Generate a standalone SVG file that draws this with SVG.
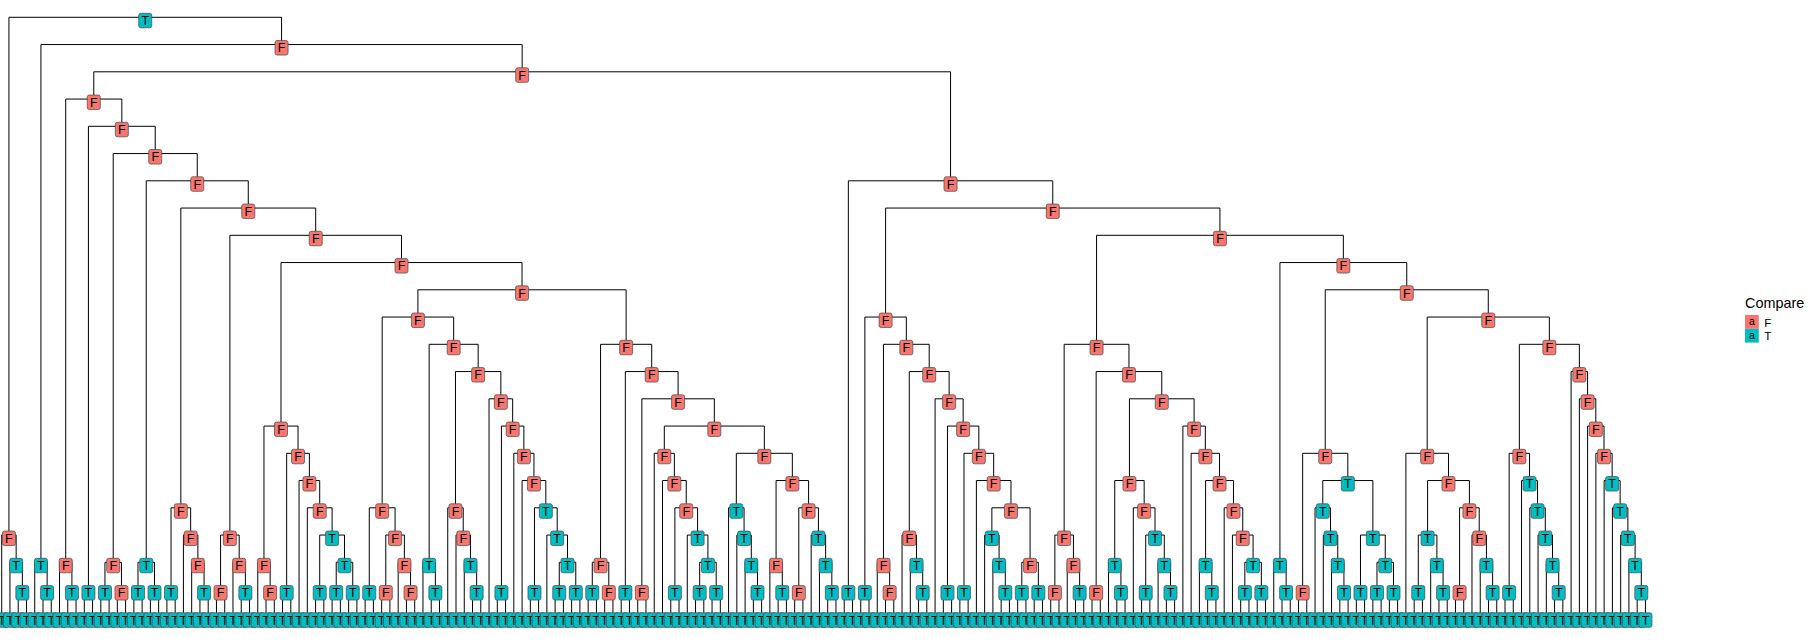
<svg xmlns="http://www.w3.org/2000/svg" width="1812" height="643" viewBox="0 0 1812 643">
<style>
#edges path{fill:none;stroke:#000;stroke-width:1;vector-effect:non-scaling-stroke}
.F rect{fill:#F8766D}
.T rect{fill:#00BFC4}
#nodes rect{stroke:#4d4d4d;stroke-width:0.75}
#nodes text{font-family:"Liberation Sans",Arial,sans-serif;font-size:12.5px;text-anchor:middle;fill:#000}
#legend text{font-family:"Liberation Sans",Arial,sans-serif;fill:#000}
</style>
<rect width="1812" height="643" fill="#fff"/>
<g id="edges" transform="matrix(8.26 0 0 -27.25 1.7 616.8)">
<path d="M2 0V1H3V0"/><path d="M1 0V2H2.5V1"/><path d="M0 0V3H1.75V2"/>
<path d="M5 0V1H6V0"/><path d="M4 0V2H5.5V1"/>
<path d="M8 0V1H9V0"/><path d="M7 0V2H8.5V1"/>
<path d="M10 0V1H11V0"/>
<path d="M12 0V1H13V0"/><path d="M14 0V1H15V0"/><path d="M12.5 1V2H14.5V1"/>
<path d="M16 0V1H17V0"/><path d="M18 0V1H19V0"/><path d="M16.5 1V2H18.5V1"/>
<path d="M20 0V1H21V0"/><path d="M24 0V1H25V0"/><path d="M23 0V2H24.5V1"/><path d="M22 0V3H23.75V2"/><path d="M20.5 1V4H22.875V3"/>
<path d="M26 0V1H27V0"/><path d="M29 0V1H30V0"/><path d="M28 0V2H29.5V1"/><path d="M26.5 1V3H28.75V2"/>
<path d="M32 0V1H33V0"/><path d="M31 0V2H32.5V1"/><path d="M34 0V1H35V0"/>
<path d="M38 0V1H39V0"/><path d="M40 0V1H41V0"/><path d="M42 0V1H43V0"/><path d="M40.5 1V2H42.5V1"/><path d="M38.5 1V3H41.5V2"/><path d="M37 0V4H40V3"/><path d="M36 0V5H38.5V4"/><path d="M34.5 1V6H37.25V5"/><path d="M31.75 2V7H35.875V6"/>
<path d="M44 0V1H45V0"/><path d="M46 0V1H47V0"/><path d="M49 0V1H50V0"/><path d="M48 0V2H49.5V1"/><path d="M46.5 1V3H48.75V2"/><path d="M44.5 1V4H47.625V3"/>
<path d="M52 0V1H53V0"/><path d="M51 0V2H52.5V1"/>
<path d="M57 0V1H58V0"/><path d="M56 0V2H57.5V1"/><path d="M55 0V3H56.75V2"/><path d="M54 0V4H55.875V3"/>
<path d="M60 0V1H61V0"/><path d="M64 0V1H65V0"/><path d="M67 0V1H68V0"/><path d="M69 0V1H70V0"/><path d="M67.5 1V2H69.5V1"/><path d="M66 0V3H68.5V2"/><path d="M64.5 1V4H67.25V3"/><path d="M63 0V5H65.875V4"/><path d="M62 0V6H64.4375V5"/><path d="M60.5 1V7H63.21875V6"/><path d="M59 0V8H61.859375V7"/>
<path d="M54.9375 4V9H60.4296875V8"/><path d="M51.75 2V10H57.68359375V9"/><path d="M46.0625 4V11H54.716796875V10"/>
<path d="M71 0V1H72V0"/><path d="M73 0V1H74V0"/><path d="M71.5 1V2H73.5V1"/>
<path d="M75 0V1H76V0"/><path d="M77 0V1H78V0"/>
<path d="M81 0V1H82V0"/><path d="M84 0V1H85V0"/><path d="M86 0V1H87V0"/><path d="M84.5 1V2H86.5V1"/><path d="M83 0V3H85.5V2"/><path d="M81.5 1V4H84.25V3"/><path d="M80 0V5H82.875V4"/><path d="M79 0V6H81.4375V5"/>
<path d="M91 0V1H92V0"/><path d="M90 0V2H91.5V1"/><path d="M89 0V3H90.75V2"/><path d="M88 0V4H89.875V3"/>
<path d="M94 0V1H95V0"/><path d="M93 0V2H94.5V1"/>
<path d="M96 0V1H97V0"/><path d="M100 0V1H101V0"/><path d="M99 0V2H100.5V1"/><path d="M98 0V3H99.75V2"/><path d="M96.5 1V4H98.875V3"/>
<path d="M93.75 2V5H97.6875V4"/><path d="M88.9375 4V6H95.71875V5"/><path d="M80.21875 6V7H92.328125V6"/><path d="M77.5 1V8H86.2734375V7"/><path d="M75.5 1V9H81.88671875V8"/><path d="M72.5 2V10H78.693359375V9"/>
<path d="M50.3896484375 11V12H75.5966796875V10"/><path d="M33.8125 7V13H62.9931640625V12"/><path d="M27.625 3V14H48.40283203125V13"/><path d="M21.6875 4V15H38.013916015625V14"/><path d="M17.5 2V16H29.8507080078125V15"/><path d="M13.5 2V17H23.67535400390625V16"/><path d="M10.5 1V18H18.587677001953125V17"/><path d="M7.75 2V19H14.5438385009765625V18"/>
<path d="M102 0V1H103V0"/>
<path d="M104 0V1H105V0"/><path d="M107 0V1H108V0"/><path d="M106 0V2H107.5V1"/>
<path d="M111 0V1H112V0"/><path d="M110 0V2H111.5V1"/><path d="M109 0V3H110.75V2"/>
<path d="M114 0V1H115V0"/><path d="M116 0V1H117V0"/>
<path d="M121 0V1H122V0"/><path d="M120 0V2H121.5V1"/><path d="M119 0V3H120.75V2"/>
<path d="M123 0V1H124V0"/><path d="M125 0V1H126V0"/><path d="M123.5 1V2H125.5V1"/>
<path d="M119.875 3V4H124.5V2"/><path d="M118 0V5H122.1875V4"/><path d="M116.5 1V6H120.09375V5"/><path d="M114.5 1V7H118.296875V6"/><path d="M113 0V8H116.3984375V7"/><path d="M109.875 3V9H114.69921875V8"/><path d="M106.75 2V10H112.287109375V9"/><path d="M104.5 1V11H109.5185546875V10"/>
<path d="M127 0V1H128V0"/><path d="M130 0V1H131V0"/><path d="M129 0V2H130.5V1"/><path d="M127.5 1V3H129.75V2"/>
<path d="M132 0V1H133V0"/>
<path d="M135 0V1H136V0"/><path d="M134 0V2H135.5V1"/><path d="M138 0V1H139V0"/><path d="M141 0V1H142V0"/><path d="M140 0V2H141.5V1"/><path d="M138.5 1V3H140.75V2"/><path d="M137 0V4H139.625V3"/><path d="M134.75 2V5H138.3125V4"/>
<path d="M146 0V1H147V0"/><path d="M145 0V2H146.5V1"/><path d="M150 0V1H151V0"/><path d="M152 0V1H153V0"/><path d="M150.5 1V2H152.5V1"/><path d="M149 0V3H151.5V2"/><path d="M148 0V4H150.25V3"/><path d="M145.75 2V5H149.125V4"/><path d="M144 0V6H147.4375V5"/><path d="M143 0V7H145.71875V6"/>
<path d="M136.53125 5V8H144.359375V7"/><path d="M132.5 1V9H140.4453125V8"/><path d="M128.625 3V10H136.47265625V9"/>
<path d="M155 0V1H156V0"/><path d="M154 0V2H155.5V1"/>
<path d="M157 0V1H158V0"/>
<path d="M162 0V1H163V0"/><path d="M161 0V2H162.5V1"/><path d="M160 0V3H161.75V2"/><path d="M159 0V4H160.875V3"/>
<path d="M164 0V1H165V0"/><path d="M166 0V1H167V0"/><path d="M168 0V1H169V0"/><path d="M166.5 1V2H168.5V1"/><path d="M164.5 1V3H167.5V2"/><path d="M159.9375 4V5H166V3"/><path d="M157.5 1V6H162.96875V5"/>
<path d="M171 0V1H172V0"/><path d="M174 0V1H175V0"/><path d="M173 0V2H174.5V1"/><path d="M171.5 1V3H173.75V2"/>
<path d="M176 0V1H177V0"/><path d="M180 0V1H181V0"/><path d="M179 0V2H180.5V1"/><path d="M178 0V3H179.75V2"/><path d="M176.5 1V4H178.875V3"/><path d="M172.625 3V5H177.6875V4"/><path d="M170 0V6H175.15625V5"/>
<path d="M182 0V1H183V0"/><path d="M188 0V1H189V0"/><path d="M187 0V2H188.5V1"/><path d="M186 0V3H187.75V2"/><path d="M185 0V4H186.875V3"/><path d="M184 0V5H185.9375V4"/><path d="M182.5 1V6H184.96875V5"/>
<path d="M198 0V1H199V0"/><path d="M197 0V2H198.5V1"/><path d="M196 0V3H197.75V2"/><path d="M195 0V4H196.875V3"/><path d="M194 0V5H195.9375V4"/><path d="M193 0V6H194.96875V5"/><path d="M192 0V7H193.984375V6"/><path d="M191 0V8H192.9921875V7"/><path d="M190 0V9H191.99609375V8"/>
<path d="M183.734375 6V10H190.998046875V9"/><path d="M172.578125 6V11H187.3662109375V10"/><path d="M160.234375 6V12H179.97216796875V11"/><path d="M154.75 2V13H170.103271484375V12"/><path d="M132.548828125 10V14H162.4266357421875V13"/><path d="M107.00927734375 11V15H147.48773193359375V14"/><path d="M102.5 1V16H127.24850463867188V15"/>
<path d="M11.14691925048828 19V20H114.87425231933594V16"/><path d="M4.75 2V21H63.01058578491211V20"/><path d="M0.875 3V22H33.880292892456055V21"/>
</g>
<g id="nodes" transform="matrix(8.26 0 0 -27.25 1.7 616.8)">
<g id="n-root" class="T" transform="translate(17.377646446228027 22) scale(.1210654 -.0366972)"><rect x="-6.5" y="-4" width="13" height="14.5" rx="2"/><text y="7.7">T</text></g>
<g id="n-F21" class="F" transform="translate(33.880292892456055 21) scale(.1210654 -.0366972)"><rect x="-6.5" y="-4" width="13" height="14.5" rx="2"/><text y="7.7">F</text></g>
<g id="n-F20" class="F" transform="translate(63.01058578491211 20) scale(.1210654 -.0366972)"><rect x="-6.5" y="-4" width="13" height="14.5" rx="2"/><text y="7.7">F</text></g>
<g id="n-F19" class="F" transform="translate(11.14691925048828 19) scale(.1210654 -.0366972)"><rect x="-6.5" y="-4" width="13" height="14.5" rx="2"/><text y="7.7">F</text></g>
<g id="n-F18" class="F" transform="translate(14.5438385009765625 18) scale(.1210654 -.0366972)"><rect x="-6.5" y="-4" width="13" height="14.5" rx="2"/><text y="7.7">F</text></g>
<g id="n-F17" class="F" transform="translate(18.587677001953125 17) scale(.1210654 -.0366972)"><rect x="-6.5" y="-4" width="13" height="14.5" rx="2"/><text y="7.7">F</text></g>
<g id="n-F16" class="F" transform="translate(23.67535400390625 16) scale(.1210654 -.0366972)"><rect x="-6.5" y="-4" width="13" height="14.5" rx="2"/><text y="7.7">F</text></g>
<g id="n-F15" class="F" transform="translate(29.8507080078125 15) scale(.1210654 -.0366972)"><rect x="-6.5" y="-4" width="13" height="14.5" rx="2"/><text y="7.7">F</text></g>
<g id="n-F14" class="F" transform="translate(38.013916015625 14) scale(.1210654 -.0366972)"><rect x="-6.5" y="-4" width="13" height="14.5" rx="2"/><text y="7.7">F</text></g>
<g id="n-F13" class="F" transform="translate(48.40283203125 13) scale(.1210654 -.0366972)"><rect x="-6.5" y="-4" width="13" height="14.5" rx="2"/><text y="7.7">F</text></g>
<g id="n-F12" class="F" transform="translate(62.9931640625 12) scale(.1210654 -.0366972)"><rect x="-6.5" y="-4" width="13" height="14.5" rx="2"/><text y="7.7">F</text></g>
<g id="n-A1" class="T" transform="translate(2.5 1) scale(.1210654 -.0366972)"><rect x="-6.5" y="-4" width="13" height="14.5" rx="2"/><text y="7.7">T</text></g>
<g id="n-A2" class="T" transform="translate(1.75 2) scale(.1210654 -.0366972)"><rect x="-6.5" y="-4" width="13" height="14.5" rx="2"/><text y="7.7">T</text></g>
<g id="n-A3" class="F" transform="translate(0.875 3) scale(.1210654 -.0366972)"><rect x="-6.5" y="-4" width="13" height="14.5" rx="2"/><text y="7.7">F</text></g>
<g id="n-B1" class="T" transform="translate(5.5 1) scale(.1210654 -.0366972)"><rect x="-6.5" y="-4" width="13" height="14.5" rx="2"/><text y="7.7">T</text></g>
<g id="n-B2" class="T" transform="translate(4.75 2) scale(.1210654 -.0366972)"><rect x="-6.5" y="-4" width="13" height="14.5" rx="2"/><text y="7.7">T</text></g>
<g id="n-C1" class="T" transform="translate(8.5 1) scale(.1210654 -.0366972)"><rect x="-6.5" y="-4" width="13" height="14.5" rx="2"/><text y="7.7">T</text></g>
<g id="n-C2" class="F" transform="translate(7.75 2) scale(.1210654 -.0366972)"><rect x="-6.5" y="-4" width="13" height="14.5" rx="2"/><text y="7.7">F</text></g>
<g id="n-D1" class="T" transform="translate(10.5 1) scale(.1210654 -.0366972)"><rect x="-6.5" y="-4" width="13" height="14.5" rx="2"/><text y="7.7">T</text></g>
<g id="n-E1a" class="T" transform="translate(12.5 1) scale(.1210654 -.0366972)"><rect x="-6.5" y="-4" width="13" height="14.5" rx="2"/><text y="7.7">T</text></g>
<g id="n-E1b" class="F" transform="translate(14.5 1) scale(.1210654 -.0366972)"><rect x="-6.5" y="-4" width="13" height="14.5" rx="2"/><text y="7.7">F</text></g>
<g id="n-E2" class="F" transform="translate(13.5 2) scale(.1210654 -.0366972)"><rect x="-6.5" y="-4" width="13" height="14.5" rx="2"/><text y="7.7">F</text></g>
<g id="n-G1a" class="T" transform="translate(16.5 1) scale(.1210654 -.0366972)"><rect x="-6.5" y="-4" width="13" height="14.5" rx="2"/><text y="7.7">T</text></g>
<g id="n-G1b" class="T" transform="translate(18.5 1) scale(.1210654 -.0366972)"><rect x="-6.5" y="-4" width="13" height="14.5" rx="2"/><text y="7.7">T</text></g>
<g id="n-G2" class="T" transform="translate(17.5 2) scale(.1210654 -.0366972)"><rect x="-6.5" y="-4" width="13" height="14.5" rx="2"/><text y="7.7">T</text></g>
<g id="n-H1" class="T" transform="translate(20.5 1) scale(.1210654 -.0366972)"><rect x="-6.5" y="-4" width="13" height="14.5" rx="2"/><text y="7.7">T</text></g>
<g id="n-H1b" class="T" transform="translate(24.5 1) scale(.1210654 -.0366972)"><rect x="-6.5" y="-4" width="13" height="14.5" rx="2"/><text y="7.7">T</text></g>
<g id="n-H2" class="F" transform="translate(23.75 2) scale(.1210654 -.0366972)"><rect x="-6.5" y="-4" width="13" height="14.5" rx="2"/><text y="7.7">F</text></g>
<g id="n-H3" class="F" transform="translate(22.875 3) scale(.1210654 -.0366972)"><rect x="-6.5" y="-4" width="13" height="14.5" rx="2"/><text y="7.7">F</text></g>
<g id="n-H4" class="F" transform="translate(21.6875 4) scale(.1210654 -.0366972)"><rect x="-6.5" y="-4" width="13" height="14.5" rx="2"/><text y="7.7">F</text></g>
<g id="n-I1" class="F" transform="translate(26.5 1) scale(.1210654 -.0366972)"><rect x="-6.5" y="-4" width="13" height="14.5" rx="2"/><text y="7.7">F</text></g>
<g id="n-I1b" class="T" transform="translate(29.5 1) scale(.1210654 -.0366972)"><rect x="-6.5" y="-4" width="13" height="14.5" rx="2"/><text y="7.7">T</text></g>
<g id="n-I2" class="F" transform="translate(28.75 2) scale(.1210654 -.0366972)"><rect x="-6.5" y="-4" width="13" height="14.5" rx="2"/><text y="7.7">F</text></g>
<g id="n-I3" class="F" transform="translate(27.625 3) scale(.1210654 -.0366972)"><rect x="-6.5" y="-4" width="13" height="14.5" rx="2"/><text y="7.7">F</text></g>
<g id="n-J1" class="F" transform="translate(32.5 1) scale(.1210654 -.0366972)"><rect x="-6.5" y="-4" width="13" height="14.5" rx="2"/><text y="7.7">F</text></g>
<g id="n-J2" class="F" transform="translate(31.75 2) scale(.1210654 -.0366972)"><rect x="-6.5" y="-4" width="13" height="14.5" rx="2"/><text y="7.7">F</text></g>
<g id="n-J1b" class="T" transform="translate(34.5 1) scale(.1210654 -.0366972)"><rect x="-6.5" y="-4" width="13" height="14.5" rx="2"/><text y="7.7">T</text></g>
<g id="n-K1a" class="T" transform="translate(38.5 1) scale(.1210654 -.0366972)"><rect x="-6.5" y="-4" width="13" height="14.5" rx="2"/><text y="7.7">T</text></g>
<g id="n-K1b" class="T" transform="translate(40.5 1) scale(.1210654 -.0366972)"><rect x="-6.5" y="-4" width="13" height="14.5" rx="2"/><text y="7.7">T</text></g>
<g id="n-K1c" class="T" transform="translate(42.5 1) scale(.1210654 -.0366972)"><rect x="-6.5" y="-4" width="13" height="14.5" rx="2"/><text y="7.7">T</text></g>
<g id="n-K2" class="T" transform="translate(41.5 2) scale(.1210654 -.0366972)"><rect x="-6.5" y="-4" width="13" height="14.5" rx="2"/><text y="7.7">T</text></g>
<g id="n-K3" class="T" transform="translate(40 3) scale(.1210654 -.0366972)"><rect x="-6.5" y="-4" width="13" height="14.5" rx="2"/><text y="7.7">T</text></g>
<g id="n-K4" class="F" transform="translate(38.5 4) scale(.1210654 -.0366972)"><rect x="-6.5" y="-4" width="13" height="14.5" rx="2"/><text y="7.7">F</text></g>
<g id="n-K5" class="F" transform="translate(37.25 5) scale(.1210654 -.0366972)"><rect x="-6.5" y="-4" width="13" height="14.5" rx="2"/><text y="7.7">F</text></g>
<g id="n-J6" class="F" transform="translate(35.875 6) scale(.1210654 -.0366972)"><rect x="-6.5" y="-4" width="13" height="14.5" rx="2"/><text y="7.7">F</text></g>
<g id="n-J7" class="F" transform="translate(33.8125 7) scale(.1210654 -.0366972)"><rect x="-6.5" y="-4" width="13" height="14.5" rx="2"/><text y="7.7">F</text></g>
<g id="n-L1a" class="T" transform="translate(44.5 1) scale(.1210654 -.0366972)"><rect x="-6.5" y="-4" width="13" height="14.5" rx="2"/><text y="7.7">T</text></g>
<g id="n-L1b" class="F" transform="translate(46.5 1) scale(.1210654 -.0366972)"><rect x="-6.5" y="-4" width="13" height="14.5" rx="2"/><text y="7.7">F</text></g>
<g id="n-L1c" class="F" transform="translate(49.5 1) scale(.1210654 -.0366972)"><rect x="-6.5" y="-4" width="13" height="14.5" rx="2"/><text y="7.7">F</text></g>
<g id="n-L2" class="F" transform="translate(48.75 2) scale(.1210654 -.0366972)"><rect x="-6.5" y="-4" width="13" height="14.5" rx="2"/><text y="7.7">F</text></g>
<g id="n-L3" class="F" transform="translate(47.625 3) scale(.1210654 -.0366972)"><rect x="-6.5" y="-4" width="13" height="14.5" rx="2"/><text y="7.7">F</text></g>
<g id="n-L4" class="F" transform="translate(46.0625 4) scale(.1210654 -.0366972)"><rect x="-6.5" y="-4" width="13" height="14.5" rx="2"/><text y="7.7">F</text></g>
<g id="n-M1" class="T" transform="translate(52.5 1) scale(.1210654 -.0366972)"><rect x="-6.5" y="-4" width="13" height="14.5" rx="2"/><text y="7.7">T</text></g>
<g id="n-M2" class="T" transform="translate(51.75 2) scale(.1210654 -.0366972)"><rect x="-6.5" y="-4" width="13" height="14.5" rx="2"/><text y="7.7">T</text></g>
<g id="n-N1" class="T" transform="translate(57.5 1) scale(.1210654 -.0366972)"><rect x="-6.5" y="-4" width="13" height="14.5" rx="2"/><text y="7.7">T</text></g>
<g id="n-N2" class="T" transform="translate(56.75 2) scale(.1210654 -.0366972)"><rect x="-6.5" y="-4" width="13" height="14.5" rx="2"/><text y="7.7">T</text></g>
<g id="n-N3" class="F" transform="translate(55.875 3) scale(.1210654 -.0366972)"><rect x="-6.5" y="-4" width="13" height="14.5" rx="2"/><text y="7.7">F</text></g>
<g id="n-N4" class="F" transform="translate(54.9375 4) scale(.1210654 -.0366972)"><rect x="-6.5" y="-4" width="13" height="14.5" rx="2"/><text y="7.7">F</text></g>
<g id="n-O1" class="T" transform="translate(60.5 1) scale(.1210654 -.0366972)"><rect x="-6.5" y="-4" width="13" height="14.5" rx="2"/><text y="7.7">T</text></g>
<g id="n-P1a" class="T" transform="translate(64.5 1) scale(.1210654 -.0366972)"><rect x="-6.5" y="-4" width="13" height="14.5" rx="2"/><text y="7.7">T</text></g>
<g id="n-P1b" class="T" transform="translate(67.5 1) scale(.1210654 -.0366972)"><rect x="-6.5" y="-4" width="13" height="14.5" rx="2"/><text y="7.7">T</text></g>
<g id="n-P1c" class="T" transform="translate(69.5 1) scale(.1210654 -.0366972)"><rect x="-6.5" y="-4" width="13" height="14.5" rx="2"/><text y="7.7">T</text></g>
<g id="n-P2" class="T" transform="translate(68.5 2) scale(.1210654 -.0366972)"><rect x="-6.5" y="-4" width="13" height="14.5" rx="2"/><text y="7.7">T</text></g>
<g id="n-P3" class="T" transform="translate(67.25 3) scale(.1210654 -.0366972)"><rect x="-6.5" y="-4" width="13" height="14.5" rx="2"/><text y="7.7">T</text></g>
<g id="n-P4" class="T" transform="translate(65.875 4) scale(.1210654 -.0366972)"><rect x="-6.5" y="-4" width="13" height="14.5" rx="2"/><text y="7.7">T</text></g>
<g id="n-P5" class="F" transform="translate(64.4375 5) scale(.1210654 -.0366972)"><rect x="-6.5" y="-4" width="13" height="14.5" rx="2"/><text y="7.7">F</text></g>
<g id="n-P6" class="F" transform="translate(63.21875 6) scale(.1210654 -.0366972)"><rect x="-6.5" y="-4" width="13" height="14.5" rx="2"/><text y="7.7">F</text></g>
<g id="n-P7" class="F" transform="translate(61.859375 7) scale(.1210654 -.0366972)"><rect x="-6.5" y="-4" width="13" height="14.5" rx="2"/><text y="7.7">F</text></g>
<g id="n-P8" class="F" transform="translate(60.4296875 8) scale(.1210654 -.0366972)"><rect x="-6.5" y="-4" width="13" height="14.5" rx="2"/><text y="7.7">F</text></g>
<g id="n-M9" class="F" transform="translate(57.68359375 9) scale(.1210654 -.0366972)"><rect x="-6.5" y="-4" width="13" height="14.5" rx="2"/><text y="7.7">F</text></g>
<g id="n-M10" class="F" transform="translate(54.716796875 10) scale(.1210654 -.0366972)"><rect x="-6.5" y="-4" width="13" height="14.5" rx="2"/><text y="7.7">F</text></g>
<g id="n-L11" class="F" transform="translate(50.3896484375 11) scale(.1210654 -.0366972)"><rect x="-6.5" y="-4" width="13" height="14.5" rx="2"/><text y="7.7">F</text></g>
<g id="n-Q1a" class="T" transform="translate(71.5 1) scale(.1210654 -.0366972)"><rect x="-6.5" y="-4" width="13" height="14.5" rx="2"/><text y="7.7">T</text></g>
<g id="n-Q1b" class="F" transform="translate(73.5 1) scale(.1210654 -.0366972)"><rect x="-6.5" y="-4" width="13" height="14.5" rx="2"/><text y="7.7">F</text></g>
<g id="n-Q2" class="F" transform="translate(72.5 2) scale(.1210654 -.0366972)"><rect x="-6.5" y="-4" width="13" height="14.5" rx="2"/><text y="7.7">F</text></g>
<g id="n-R1" class="T" transform="translate(75.5 1) scale(.1210654 -.0366972)"><rect x="-6.5" y="-4" width="13" height="14.5" rx="2"/><text y="7.7">T</text></g>
<g id="n-S1" class="F" transform="translate(77.5 1) scale(.1210654 -.0366972)"><rect x="-6.5" y="-4" width="13" height="14.5" rx="2"/><text y="7.7">F</text></g>
<g id="n-T1a" class="T" transform="translate(81.5 1) scale(.1210654 -.0366972)"><rect x="-6.5" y="-4" width="13" height="14.5" rx="2"/><text y="7.7">T</text></g>
<g id="n-T1b" class="T" transform="translate(84.5 1) scale(.1210654 -.0366972)"><rect x="-6.5" y="-4" width="13" height="14.5" rx="2"/><text y="7.7">T</text></g>
<g id="n-T1c" class="T" transform="translate(86.5 1) scale(.1210654 -.0366972)"><rect x="-6.5" y="-4" width="13" height="14.5" rx="2"/><text y="7.7">T</text></g>
<g id="n-T2" class="T" transform="translate(85.5 2) scale(.1210654 -.0366972)"><rect x="-6.5" y="-4" width="13" height="14.5" rx="2"/><text y="7.7">T</text></g>
<g id="n-T3" class="T" transform="translate(84.25 3) scale(.1210654 -.0366972)"><rect x="-6.5" y="-4" width="13" height="14.5" rx="2"/><text y="7.7">T</text></g>
<g id="n-T4" class="F" transform="translate(82.875 4) scale(.1210654 -.0366972)"><rect x="-6.5" y="-4" width="13" height="14.5" rx="2"/><text y="7.7">F</text></g>
<g id="n-T5" class="F" transform="translate(81.4375 5) scale(.1210654 -.0366972)"><rect x="-6.5" y="-4" width="13" height="14.5" rx="2"/><text y="7.7">F</text></g>
<g id="n-T6" class="F" transform="translate(80.21875 6) scale(.1210654 -.0366972)"><rect x="-6.5" y="-4" width="13" height="14.5" rx="2"/><text y="7.7">F</text></g>
<g id="n-U1" class="T" transform="translate(91.5 1) scale(.1210654 -.0366972)"><rect x="-6.5" y="-4" width="13" height="14.5" rx="2"/><text y="7.7">T</text></g>
<g id="n-U2" class="T" transform="translate(90.75 2) scale(.1210654 -.0366972)"><rect x="-6.5" y="-4" width="13" height="14.5" rx="2"/><text y="7.7">T</text></g>
<g id="n-U3" class="T" transform="translate(89.875 3) scale(.1210654 -.0366972)"><rect x="-6.5" y="-4" width="13" height="14.5" rx="2"/><text y="7.7">T</text></g>
<g id="n-U4" class="T" transform="translate(88.9375 4) scale(.1210654 -.0366972)"><rect x="-6.5" y="-4" width="13" height="14.5" rx="2"/><text y="7.7">T</text></g>
<g id="n-V1" class="T" transform="translate(94.5 1) scale(.1210654 -.0366972)"><rect x="-6.5" y="-4" width="13" height="14.5" rx="2"/><text y="7.7">T</text></g>
<g id="n-V2" class="F" transform="translate(93.75 2) scale(.1210654 -.0366972)"><rect x="-6.5" y="-4" width="13" height="14.5" rx="2"/><text y="7.7">F</text></g>
<g id="n-W1" class="F" transform="translate(96.5 1) scale(.1210654 -.0366972)"><rect x="-6.5" y="-4" width="13" height="14.5" rx="2"/><text y="7.7">F</text></g>
<g id="n-W1b" class="T" transform="translate(100.5 1) scale(.1210654 -.0366972)"><rect x="-6.5" y="-4" width="13" height="14.5" rx="2"/><text y="7.7">T</text></g>
<g id="n-W2" class="T" transform="translate(99.75 2) scale(.1210654 -.0366972)"><rect x="-6.5" y="-4" width="13" height="14.5" rx="2"/><text y="7.7">T</text></g>
<g id="n-W3" class="T" transform="translate(98.875 3) scale(.1210654 -.0366972)"><rect x="-6.5" y="-4" width="13" height="14.5" rx="2"/><text y="7.7">T</text></g>
<g id="n-W4" class="F" transform="translate(97.6875 4) scale(.1210654 -.0366972)"><rect x="-6.5" y="-4" width="13" height="14.5" rx="2"/><text y="7.7">F</text></g>
<g id="n-V5" class="F" transform="translate(95.71875 5) scale(.1210654 -.0366972)"><rect x="-6.5" y="-4" width="13" height="14.5" rx="2"/><text y="7.7">F</text></g>
<g id="n-U6" class="F" transform="translate(92.328125 6) scale(.1210654 -.0366972)"><rect x="-6.5" y="-4" width="13" height="14.5" rx="2"/><text y="7.7">F</text></g>
<g id="n-S7" class="F" transform="translate(86.2734375 7) scale(.1210654 -.0366972)"><rect x="-6.5" y="-4" width="13" height="14.5" rx="2"/><text y="7.7">F</text></g>
<g id="n-S8" class="F" transform="translate(81.88671875 8) scale(.1210654 -.0366972)"><rect x="-6.5" y="-4" width="13" height="14.5" rx="2"/><text y="7.7">F</text></g>
<g id="n-R9" class="F" transform="translate(78.693359375 9) scale(.1210654 -.0366972)"><rect x="-6.5" y="-4" width="13" height="14.5" rx="2"/><text y="7.7">F</text></g>
<g id="n-Q10" class="F" transform="translate(75.5966796875 10) scale(.1210654 -.0366972)"><rect x="-6.5" y="-4" width="13" height="14.5" rx="2"/><text y="7.7">F</text></g>
<g id="n-X1" class="T" transform="translate(102.5 1) scale(.1210654 -.0366972)"><rect x="-6.5" y="-4" width="13" height="14.5" rx="2"/><text y="7.7">T</text></g>
<g id="n-Y1" class="T" transform="translate(104.5 1) scale(.1210654 -.0366972)"><rect x="-6.5" y="-4" width="13" height="14.5" rx="2"/><text y="7.7">T</text></g>
<g id="n-Y1b" class="F" transform="translate(107.5 1) scale(.1210654 -.0366972)"><rect x="-6.5" y="-4" width="13" height="14.5" rx="2"/><text y="7.7">F</text></g>
<g id="n-Y2" class="F" transform="translate(106.75 2) scale(.1210654 -.0366972)"><rect x="-6.5" y="-4" width="13" height="14.5" rx="2"/><text y="7.7">F</text></g>
<g id="n-Z1" class="T" transform="translate(111.5 1) scale(.1210654 -.0366972)"><rect x="-6.5" y="-4" width="13" height="14.5" rx="2"/><text y="7.7">T</text></g>
<g id="n-Z2" class="T" transform="translate(110.75 2) scale(.1210654 -.0366972)"><rect x="-6.5" y="-4" width="13" height="14.5" rx="2"/><text y="7.7">T</text></g>
<g id="n-Z3" class="F" transform="translate(109.875 3) scale(.1210654 -.0366972)"><rect x="-6.5" y="-4" width="13" height="14.5" rx="2"/><text y="7.7">F</text></g>
<g id="n-a1" class="T" transform="translate(114.5 1) scale(.1210654 -.0366972)"><rect x="-6.5" y="-4" width="13" height="14.5" rx="2"/><text y="7.7">T</text></g>
<g id="n-b1" class="T" transform="translate(116.5 1) scale(.1210654 -.0366972)"><rect x="-6.5" y="-4" width="13" height="14.5" rx="2"/><text y="7.7">T</text></g>
<g id="n-c1" class="T" transform="translate(121.5 1) scale(.1210654 -.0366972)"><rect x="-6.5" y="-4" width="13" height="14.5" rx="2"/><text y="7.7">T</text></g>
<g id="n-c2" class="T" transform="translate(120.75 2) scale(.1210654 -.0366972)"><rect x="-6.5" y="-4" width="13" height="14.5" rx="2"/><text y="7.7">T</text></g>
<g id="n-c3" class="T" transform="translate(119.875 3) scale(.1210654 -.0366972)"><rect x="-6.5" y="-4" width="13" height="14.5" rx="2"/><text y="7.7">T</text></g>
<g id="n-d1a" class="T" transform="translate(123.5 1) scale(.1210654 -.0366972)"><rect x="-6.5" y="-4" width="13" height="14.5" rx="2"/><text y="7.7">T</text></g>
<g id="n-d1b" class="T" transform="translate(125.5 1) scale(.1210654 -.0366972)"><rect x="-6.5" y="-4" width="13" height="14.5" rx="2"/><text y="7.7">T</text></g>
<g id="n-d2" class="F" transform="translate(124.5 2) scale(.1210654 -.0366972)"><rect x="-6.5" y="-4" width="13" height="14.5" rx="2"/><text y="7.7">F</text></g>
<g id="n-c4" class="F" transform="translate(122.1875 4) scale(.1210654 -.0366972)"><rect x="-6.5" y="-4" width="13" height="14.5" rx="2"/><text y="7.7">F</text></g>
<g id="n-c5" class="F" transform="translate(120.09375 5) scale(.1210654 -.0366972)"><rect x="-6.5" y="-4" width="13" height="14.5" rx="2"/><text y="7.7">F</text></g>
<g id="n-b6" class="F" transform="translate(118.296875 6) scale(.1210654 -.0366972)"><rect x="-6.5" y="-4" width="13" height="14.5" rx="2"/><text y="7.7">F</text></g>
<g id="n-a7" class="F" transform="translate(116.3984375 7) scale(.1210654 -.0366972)"><rect x="-6.5" y="-4" width="13" height="14.5" rx="2"/><text y="7.7">F</text></g>
<g id="n-a8" class="F" transform="translate(114.69921875 8) scale(.1210654 -.0366972)"><rect x="-6.5" y="-4" width="13" height="14.5" rx="2"/><text y="7.7">F</text></g>
<g id="n-Z9" class="F" transform="translate(112.287109375 9) scale(.1210654 -.0366972)"><rect x="-6.5" y="-4" width="13" height="14.5" rx="2"/><text y="7.7">F</text></g>
<g id="n-Y10" class="F" transform="translate(109.5185546875 10) scale(.1210654 -.0366972)"><rect x="-6.5" y="-4" width="13" height="14.5" rx="2"/><text y="7.7">F</text></g>
<g id="n-Y11" class="F" transform="translate(107.00927734375 11) scale(.1210654 -.0366972)"><rect x="-6.5" y="-4" width="13" height="14.5" rx="2"/><text y="7.7">F</text></g>
<g id="n-e1" class="F" transform="translate(127.5 1) scale(.1210654 -.0366972)"><rect x="-6.5" y="-4" width="13" height="14.5" rx="2"/><text y="7.7">F</text></g>
<g id="n-e1b" class="T" transform="translate(130.5 1) scale(.1210654 -.0366972)"><rect x="-6.5" y="-4" width="13" height="14.5" rx="2"/><text y="7.7">T</text></g>
<g id="n-e2" class="F" transform="translate(129.75 2) scale(.1210654 -.0366972)"><rect x="-6.5" y="-4" width="13" height="14.5" rx="2"/><text y="7.7">F</text></g>
<g id="n-e3" class="F" transform="translate(128.625 3) scale(.1210654 -.0366972)"><rect x="-6.5" y="-4" width="13" height="14.5" rx="2"/><text y="7.7">F</text></g>
<g id="n-f1" class="F" transform="translate(132.5 1) scale(.1210654 -.0366972)"><rect x="-6.5" y="-4" width="13" height="14.5" rx="2"/><text y="7.7">F</text></g>
<g id="n-g1" class="T" transform="translate(135.5 1) scale(.1210654 -.0366972)"><rect x="-6.5" y="-4" width="13" height="14.5" rx="2"/><text y="7.7">T</text></g>
<g id="n-g2" class="T" transform="translate(134.75 2) scale(.1210654 -.0366972)"><rect x="-6.5" y="-4" width="13" height="14.5" rx="2"/><text y="7.7">T</text></g>
<g id="n-g1b" class="T" transform="translate(138.5 1) scale(.1210654 -.0366972)"><rect x="-6.5" y="-4" width="13" height="14.5" rx="2"/><text y="7.7">T</text></g>
<g id="n-g1c" class="T" transform="translate(141.5 1) scale(.1210654 -.0366972)"><rect x="-6.5" y="-4" width="13" height="14.5" rx="2"/><text y="7.7">T</text></g>
<g id="n-g2b" class="T" transform="translate(140.75 2) scale(.1210654 -.0366972)"><rect x="-6.5" y="-4" width="13" height="14.5" rx="2"/><text y="7.7">T</text></g>
<g id="n-g3" class="T" transform="translate(139.625 3) scale(.1210654 -.0366972)"><rect x="-6.5" y="-4" width="13" height="14.5" rx="2"/><text y="7.7">T</text></g>
<g id="n-g4" class="F" transform="translate(138.3125 4) scale(.1210654 -.0366972)"><rect x="-6.5" y="-4" width="13" height="14.5" rx="2"/><text y="7.7">F</text></g>
<g id="n-g5" class="F" transform="translate(136.53125 5) scale(.1210654 -.0366972)"><rect x="-6.5" y="-4" width="13" height="14.5" rx="2"/><text y="7.7">F</text></g>
<g id="n-h1" class="T" transform="translate(146.5 1) scale(.1210654 -.0366972)"><rect x="-6.5" y="-4" width="13" height="14.5" rx="2"/><text y="7.7">T</text></g>
<g id="n-h2" class="T" transform="translate(145.75 2) scale(.1210654 -.0366972)"><rect x="-6.5" y="-4" width="13" height="14.5" rx="2"/><text y="7.7">T</text></g>
<g id="n-h1b" class="T" transform="translate(150.5 1) scale(.1210654 -.0366972)"><rect x="-6.5" y="-4" width="13" height="14.5" rx="2"/><text y="7.7">T</text></g>
<g id="n-h1c" class="T" transform="translate(152.5 1) scale(.1210654 -.0366972)"><rect x="-6.5" y="-4" width="13" height="14.5" rx="2"/><text y="7.7">T</text></g>
<g id="n-h2b" class="T" transform="translate(151.5 2) scale(.1210654 -.0366972)"><rect x="-6.5" y="-4" width="13" height="14.5" rx="2"/><text y="7.7">T</text></g>
<g id="n-h3" class="F" transform="translate(150.25 3) scale(.1210654 -.0366972)"><rect x="-6.5" y="-4" width="13" height="14.5" rx="2"/><text y="7.7">F</text></g>
<g id="n-h4" class="F" transform="translate(149.125 4) scale(.1210654 -.0366972)"><rect x="-6.5" y="-4" width="13" height="14.5" rx="2"/><text y="7.7">F</text></g>
<g id="n-h5" class="F" transform="translate(147.4375 5) scale(.1210654 -.0366972)"><rect x="-6.5" y="-4" width="13" height="14.5" rx="2"/><text y="7.7">F</text></g>
<g id="n-h6" class="F" transform="translate(145.71875 6) scale(.1210654 -.0366972)"><rect x="-6.5" y="-4" width="13" height="14.5" rx="2"/><text y="7.7">F</text></g>
<g id="n-h7" class="F" transform="translate(144.359375 7) scale(.1210654 -.0366972)"><rect x="-6.5" y="-4" width="13" height="14.5" rx="2"/><text y="7.7">F</text></g>
<g id="n-h8" class="F" transform="translate(140.4453125 8) scale(.1210654 -.0366972)"><rect x="-6.5" y="-4" width="13" height="14.5" rx="2"/><text y="7.7">F</text></g>
<g id="n-f9" class="F" transform="translate(136.47265625 9) scale(.1210654 -.0366972)"><rect x="-6.5" y="-4" width="13" height="14.5" rx="2"/><text y="7.7">F</text></g>
<g id="n-e10" class="F" transform="translate(132.548828125 10) scale(.1210654 -.0366972)"><rect x="-6.5" y="-4" width="13" height="14.5" rx="2"/><text y="7.7">F</text></g>
<g id="n-i1" class="T" transform="translate(155.5 1) scale(.1210654 -.0366972)"><rect x="-6.5" y="-4" width="13" height="14.5" rx="2"/><text y="7.7">T</text></g>
<g id="n-i2" class="T" transform="translate(154.75 2) scale(.1210654 -.0366972)"><rect x="-6.5" y="-4" width="13" height="14.5" rx="2"/><text y="7.7">T</text></g>
<g id="n-j1" class="F" transform="translate(157.5 1) scale(.1210654 -.0366972)"><rect x="-6.5" y="-4" width="13" height="14.5" rx="2"/><text y="7.7">F</text></g>
<g id="n-k1" class="T" transform="translate(162.5 1) scale(.1210654 -.0366972)"><rect x="-6.5" y="-4" width="13" height="14.5" rx="2"/><text y="7.7">T</text></g>
<g id="n-k2" class="T" transform="translate(161.75 2) scale(.1210654 -.0366972)"><rect x="-6.5" y="-4" width="13" height="14.5" rx="2"/><text y="7.7">T</text></g>
<g id="n-k3" class="T" transform="translate(160.875 3) scale(.1210654 -.0366972)"><rect x="-6.5" y="-4" width="13" height="14.5" rx="2"/><text y="7.7">T</text></g>
<g id="n-k4" class="T" transform="translate(159.9375 4) scale(.1210654 -.0366972)"><rect x="-6.5" y="-4" width="13" height="14.5" rx="2"/><text y="7.7">T</text></g>
<g id="n-l1a" class="T" transform="translate(164.5 1) scale(.1210654 -.0366972)"><rect x="-6.5" y="-4" width="13" height="14.5" rx="2"/><text y="7.7">T</text></g>
<g id="n-l1b" class="T" transform="translate(166.5 1) scale(.1210654 -.0366972)"><rect x="-6.5" y="-4" width="13" height="14.5" rx="2"/><text y="7.7">T</text></g>
<g id="n-l1c" class="T" transform="translate(168.5 1) scale(.1210654 -.0366972)"><rect x="-6.5" y="-4" width="13" height="14.5" rx="2"/><text y="7.7">T</text></g>
<g id="n-l2" class="T" transform="translate(167.5 2) scale(.1210654 -.0366972)"><rect x="-6.5" y="-4" width="13" height="14.5" rx="2"/><text y="7.7">T</text></g>
<g id="n-l3" class="T" transform="translate(166 3) scale(.1210654 -.0366972)"><rect x="-6.5" y="-4" width="13" height="14.5" rx="2"/><text y="7.7">T</text></g>
<g id="n-k5" class="T" transform="translate(162.96875 5) scale(.1210654 -.0366972)"><rect x="-6.5" y="-4" width="13" height="14.5" rx="2"/><text y="7.7">T</text></g>
<g id="n-j6" class="F" transform="translate(160.234375 6) scale(.1210654 -.0366972)"><rect x="-6.5" y="-4" width="13" height="14.5" rx="2"/><text y="7.7">F</text></g>
<g id="n-m1a" class="T" transform="translate(171.5 1) scale(.1210654 -.0366972)"><rect x="-6.5" y="-4" width="13" height="14.5" rx="2"/><text y="7.7">T</text></g>
<g id="n-m1b" class="T" transform="translate(174.5 1) scale(.1210654 -.0366972)"><rect x="-6.5" y="-4" width="13" height="14.5" rx="2"/><text y="7.7">T</text></g>
<g id="n-m2" class="T" transform="translate(173.75 2) scale(.1210654 -.0366972)"><rect x="-6.5" y="-4" width="13" height="14.5" rx="2"/><text y="7.7">T</text></g>
<g id="n-m3" class="T" transform="translate(172.625 3) scale(.1210654 -.0366972)"><rect x="-6.5" y="-4" width="13" height="14.5" rx="2"/><text y="7.7">T</text></g>
<g id="n-n1" class="F" transform="translate(176.5 1) scale(.1210654 -.0366972)"><rect x="-6.5" y="-4" width="13" height="14.5" rx="2"/><text y="7.7">F</text></g>
<g id="n-n1b" class="T" transform="translate(180.5 1) scale(.1210654 -.0366972)"><rect x="-6.5" y="-4" width="13" height="14.5" rx="2"/><text y="7.7">T</text></g>
<g id="n-n2" class="T" transform="translate(179.75 2) scale(.1210654 -.0366972)"><rect x="-6.5" y="-4" width="13" height="14.5" rx="2"/><text y="7.7">T</text></g>
<g id="n-n3" class="F" transform="translate(178.875 3) scale(.1210654 -.0366972)"><rect x="-6.5" y="-4" width="13" height="14.5" rx="2"/><text y="7.7">F</text></g>
<g id="n-n4" class="F" transform="translate(177.6875 4) scale(.1210654 -.0366972)"><rect x="-6.5" y="-4" width="13" height="14.5" rx="2"/><text y="7.7">F</text></g>
<g id="n-m5" class="F" transform="translate(175.15625 5) scale(.1210654 -.0366972)"><rect x="-6.5" y="-4" width="13" height="14.5" rx="2"/><text y="7.7">F</text></g>
<g id="n-m6" class="F" transform="translate(172.578125 6) scale(.1210654 -.0366972)"><rect x="-6.5" y="-4" width="13" height="14.5" rx="2"/><text y="7.7">F</text></g>
<g id="n-o1" class="T" transform="translate(182.5 1) scale(.1210654 -.0366972)"><rect x="-6.5" y="-4" width="13" height="14.5" rx="2"/><text y="7.7">T</text></g>
<g id="n-p1" class="T" transform="translate(188.5 1) scale(.1210654 -.0366972)"><rect x="-6.5" y="-4" width="13" height="14.5" rx="2"/><text y="7.7">T</text></g>
<g id="n-p2" class="T" transform="translate(187.75 2) scale(.1210654 -.0366972)"><rect x="-6.5" y="-4" width="13" height="14.5" rx="2"/><text y="7.7">T</text></g>
<g id="n-p3" class="T" transform="translate(186.875 3) scale(.1210654 -.0366972)"><rect x="-6.5" y="-4" width="13" height="14.5" rx="2"/><text y="7.7">T</text></g>
<g id="n-p4" class="T" transform="translate(185.9375 4) scale(.1210654 -.0366972)"><rect x="-6.5" y="-4" width="13" height="14.5" rx="2"/><text y="7.7">T</text></g>
<g id="n-p5" class="T" transform="translate(184.96875 5) scale(.1210654 -.0366972)"><rect x="-6.5" y="-4" width="13" height="14.5" rx="2"/><text y="7.7">T</text></g>
<g id="n-o6" class="F" transform="translate(183.734375 6) scale(.1210654 -.0366972)"><rect x="-6.5" y="-4" width="13" height="14.5" rx="2"/><text y="7.7">F</text></g>
<g id="n-q1" class="T" transform="translate(198.5 1) scale(.1210654 -.0366972)"><rect x="-6.5" y="-4" width="13" height="14.5" rx="2"/><text y="7.7">T</text></g>
<g id="n-q2" class="T" transform="translate(197.75 2) scale(.1210654 -.0366972)"><rect x="-6.5" y="-4" width="13" height="14.5" rx="2"/><text y="7.7">T</text></g>
<g id="n-q3" class="T" transform="translate(196.875 3) scale(.1210654 -.0366972)"><rect x="-6.5" y="-4" width="13" height="14.5" rx="2"/><text y="7.7">T</text></g>
<g id="n-q4" class="T" transform="translate(195.9375 4) scale(.1210654 -.0366972)"><rect x="-6.5" y="-4" width="13" height="14.5" rx="2"/><text y="7.7">T</text></g>
<g id="n-q5" class="T" transform="translate(194.96875 5) scale(.1210654 -.0366972)"><rect x="-6.5" y="-4" width="13" height="14.5" rx="2"/><text y="7.7">T</text></g>
<g id="n-q6" class="F" transform="translate(193.984375 6) scale(.1210654 -.0366972)"><rect x="-6.5" y="-4" width="13" height="14.5" rx="2"/><text y="7.7">F</text></g>
<g id="n-q7" class="F" transform="translate(192.9921875 7) scale(.1210654 -.0366972)"><rect x="-6.5" y="-4" width="13" height="14.5" rx="2"/><text y="7.7">F</text></g>
<g id="n-q8" class="F" transform="translate(191.99609375 8) scale(.1210654 -.0366972)"><rect x="-6.5" y="-4" width="13" height="14.5" rx="2"/><text y="7.7">F</text></g>
<g id="n-q9" class="F" transform="translate(190.998046875 9) scale(.1210654 -.0366972)"><rect x="-6.5" y="-4" width="13" height="14.5" rx="2"/><text y="7.7">F</text></g>
<g id="n-o10" class="F" transform="translate(187.3662109375 10) scale(.1210654 -.0366972)"><rect x="-6.5" y="-4" width="13" height="14.5" rx="2"/><text y="7.7">F</text></g>
<g id="n-m11" class="F" transform="translate(179.97216796875 11) scale(.1210654 -.0366972)"><rect x="-6.5" y="-4" width="13" height="14.5" rx="2"/><text y="7.7">F</text></g>
<g id="n-r12" class="F" transform="translate(170.103271484375 12) scale(.1210654 -.0366972)"><rect x="-6.5" y="-4" width="13" height="14.5" rx="2"/><text y="7.7">F</text></g>
<g id="n-r13" class="F" transform="translate(162.4266357421875 13) scale(.1210654 -.0366972)"><rect x="-6.5" y="-4" width="13" height="14.5" rx="2"/><text y="7.7">F</text></g>
<g id="n-r14" class="F" transform="translate(147.48773193359375 14) scale(.1210654 -.0366972)"><rect x="-6.5" y="-4" width="13" height="14.5" rx="2"/><text y="7.7">F</text></g>
<g id="n-r15" class="F" transform="translate(127.24850463867188 15) scale(.1210654 -.0366972)"><rect x="-6.5" y="-4" width="13" height="14.5" rx="2"/><text y="7.7">F</text></g>
<g id="n-r16" class="F" transform="translate(114.87425231933594 16) scale(.1210654 -.0366972)"><rect x="-6.5" y="-4" width="13" height="14.5" rx="2"/><text y="7.7">F</text></g>
<g id="leaf0" class="T" transform="translate(0 0) scale(.1210654 -.0366972)"><rect x="-6.5" y="-4" width="13" height="14.5" rx="2"/><text y="7.7">T</text></g>
<g id="leaf1" class="T" transform="translate(1 0) scale(.1210654 -.0366972)"><rect x="-6.5" y="-4" width="13" height="14.5" rx="2"/><text y="7.7">T</text></g>
<g id="leaf2" class="T" transform="translate(2 0) scale(.1210654 -.0366972)"><rect x="-6.5" y="-4" width="13" height="14.5" rx="2"/><text y="7.7">T</text></g>
<g id="leaf3" class="T" transform="translate(3 0) scale(.1210654 -.0366972)"><rect x="-6.5" y="-4" width="13" height="14.5" rx="2"/><text y="7.7">T</text></g>
<g id="leaf4" class="T" transform="translate(4 0) scale(.1210654 -.0366972)"><rect x="-6.5" y="-4" width="13" height="14.5" rx="2"/><text y="7.7">T</text></g>
<g id="leaf5" class="T" transform="translate(5 0) scale(.1210654 -.0366972)"><rect x="-6.5" y="-4" width="13" height="14.5" rx="2"/><text y="7.7">T</text></g>
<g id="leaf6" class="T" transform="translate(6 0) scale(.1210654 -.0366972)"><rect x="-6.5" y="-4" width="13" height="14.5" rx="2"/><text y="7.7">T</text></g>
<g id="leaf7" class="T" transform="translate(7 0) scale(.1210654 -.0366972)"><rect x="-6.5" y="-4" width="13" height="14.5" rx="2"/><text y="7.7">T</text></g>
<g id="leaf8" class="T" transform="translate(8 0) scale(.1210654 -.0366972)"><rect x="-6.5" y="-4" width="13" height="14.5" rx="2"/><text y="7.7">T</text></g>
<g id="leaf9" class="T" transform="translate(9 0) scale(.1210654 -.0366972)"><rect x="-6.5" y="-4" width="13" height="14.5" rx="2"/><text y="7.7">T</text></g>
<g id="leaf10" class="T" transform="translate(10 0) scale(.1210654 -.0366972)"><rect x="-6.5" y="-4" width="13" height="14.5" rx="2"/><text y="7.7">T</text></g>
<g id="leaf11" class="T" transform="translate(11 0) scale(.1210654 -.0366972)"><rect x="-6.5" y="-4" width="13" height="14.5" rx="2"/><text y="7.7">T</text></g>
<g id="leaf12" class="T" transform="translate(12 0) scale(.1210654 -.0366972)"><rect x="-6.5" y="-4" width="13" height="14.5" rx="2"/><text y="7.7">T</text></g>
<g id="leaf13" class="T" transform="translate(13 0) scale(.1210654 -.0366972)"><rect x="-6.5" y="-4" width="13" height="14.5" rx="2"/><text y="7.7">T</text></g>
<g id="leaf14" class="T" transform="translate(14 0) scale(.1210654 -.0366972)"><rect x="-6.5" y="-4" width="13" height="14.5" rx="2"/><text y="7.7">T</text></g>
<g id="leaf15" class="T" transform="translate(15 0) scale(.1210654 -.0366972)"><rect x="-6.5" y="-4" width="13" height="14.5" rx="2"/><text y="7.7">T</text></g>
<g id="leaf16" class="T" transform="translate(16 0) scale(.1210654 -.0366972)"><rect x="-6.5" y="-4" width="13" height="14.5" rx="2"/><text y="7.7">T</text></g>
<g id="leaf17" class="T" transform="translate(17 0) scale(.1210654 -.0366972)"><rect x="-6.5" y="-4" width="13" height="14.5" rx="2"/><text y="7.7">T</text></g>
<g id="leaf18" class="T" transform="translate(18 0) scale(.1210654 -.0366972)"><rect x="-6.5" y="-4" width="13" height="14.5" rx="2"/><text y="7.7">T</text></g>
<g id="leaf19" class="T" transform="translate(19 0) scale(.1210654 -.0366972)"><rect x="-6.5" y="-4" width="13" height="14.5" rx="2"/><text y="7.7">T</text></g>
<g id="leaf20" class="T" transform="translate(20 0) scale(.1210654 -.0366972)"><rect x="-6.5" y="-4" width="13" height="14.5" rx="2"/><text y="7.7">T</text></g>
<g id="leaf21" class="T" transform="translate(21 0) scale(.1210654 -.0366972)"><rect x="-6.5" y="-4" width="13" height="14.5" rx="2"/><text y="7.7">T</text></g>
<g id="leaf22" class="T" transform="translate(22 0) scale(.1210654 -.0366972)"><rect x="-6.5" y="-4" width="13" height="14.5" rx="2"/><text y="7.7">T</text></g>
<g id="leaf23" class="T" transform="translate(23 0) scale(.1210654 -.0366972)"><rect x="-6.5" y="-4" width="13" height="14.5" rx="2"/><text y="7.7">T</text></g>
<g id="leaf24" class="T" transform="translate(24 0) scale(.1210654 -.0366972)"><rect x="-6.5" y="-4" width="13" height="14.5" rx="2"/><text y="7.7">T</text></g>
<g id="leaf25" class="T" transform="translate(25 0) scale(.1210654 -.0366972)"><rect x="-6.5" y="-4" width="13" height="14.5" rx="2"/><text y="7.7">T</text></g>
<g id="leaf26" class="T" transform="translate(26 0) scale(.1210654 -.0366972)"><rect x="-6.5" y="-4" width="13" height="14.5" rx="2"/><text y="7.7">T</text></g>
<g id="leaf27" class="T" transform="translate(27 0) scale(.1210654 -.0366972)"><rect x="-6.5" y="-4" width="13" height="14.5" rx="2"/><text y="7.7">T</text></g>
<g id="leaf28" class="T" transform="translate(28 0) scale(.1210654 -.0366972)"><rect x="-6.5" y="-4" width="13" height="14.5" rx="2"/><text y="7.7">T</text></g>
<g id="leaf29" class="T" transform="translate(29 0) scale(.1210654 -.0366972)"><rect x="-6.5" y="-4" width="13" height="14.5" rx="2"/><text y="7.7">T</text></g>
<g id="leaf30" class="T" transform="translate(30 0) scale(.1210654 -.0366972)"><rect x="-6.5" y="-4" width="13" height="14.5" rx="2"/><text y="7.7">T</text></g>
<g id="leaf31" class="T" transform="translate(31 0) scale(.1210654 -.0366972)"><rect x="-6.5" y="-4" width="13" height="14.5" rx="2"/><text y="7.7">T</text></g>
<g id="leaf32" class="T" transform="translate(32 0) scale(.1210654 -.0366972)"><rect x="-6.5" y="-4" width="13" height="14.5" rx="2"/><text y="7.7">T</text></g>
<g id="leaf33" class="T" transform="translate(33 0) scale(.1210654 -.0366972)"><rect x="-6.5" y="-4" width="13" height="14.5" rx="2"/><text y="7.7">T</text></g>
<g id="leaf34" class="T" transform="translate(34 0) scale(.1210654 -.0366972)"><rect x="-6.5" y="-4" width="13" height="14.5" rx="2"/><text y="7.7">T</text></g>
<g id="leaf35" class="T" transform="translate(35 0) scale(.1210654 -.0366972)"><rect x="-6.5" y="-4" width="13" height="14.5" rx="2"/><text y="7.7">T</text></g>
<g id="leaf36" class="T" transform="translate(36 0) scale(.1210654 -.0366972)"><rect x="-6.5" y="-4" width="13" height="14.5" rx="2"/><text y="7.7">T</text></g>
<g id="leaf37" class="T" transform="translate(37 0) scale(.1210654 -.0366972)"><rect x="-6.5" y="-4" width="13" height="14.5" rx="2"/><text y="7.7">T</text></g>
<g id="leaf38" class="T" transform="translate(38 0) scale(.1210654 -.0366972)"><rect x="-6.5" y="-4" width="13" height="14.5" rx="2"/><text y="7.7">T</text></g>
<g id="leaf39" class="T" transform="translate(39 0) scale(.1210654 -.0366972)"><rect x="-6.5" y="-4" width="13" height="14.5" rx="2"/><text y="7.7">T</text></g>
<g id="leaf40" class="T" transform="translate(40 0) scale(.1210654 -.0366972)"><rect x="-6.5" y="-4" width="13" height="14.5" rx="2"/><text y="7.7">T</text></g>
<g id="leaf41" class="T" transform="translate(41 0) scale(.1210654 -.0366972)"><rect x="-6.5" y="-4" width="13" height="14.5" rx="2"/><text y="7.7">T</text></g>
<g id="leaf42" class="T" transform="translate(42 0) scale(.1210654 -.0366972)"><rect x="-6.5" y="-4" width="13" height="14.5" rx="2"/><text y="7.7">T</text></g>
<g id="leaf43" class="T" transform="translate(43 0) scale(.1210654 -.0366972)"><rect x="-6.5" y="-4" width="13" height="14.5" rx="2"/><text y="7.7">T</text></g>
<g id="leaf44" class="T" transform="translate(44 0) scale(.1210654 -.0366972)"><rect x="-6.5" y="-4" width="13" height="14.5" rx="2"/><text y="7.7">T</text></g>
<g id="leaf45" class="T" transform="translate(45 0) scale(.1210654 -.0366972)"><rect x="-6.5" y="-4" width="13" height="14.5" rx="2"/><text y="7.7">T</text></g>
<g id="leaf46" class="T" transform="translate(46 0) scale(.1210654 -.0366972)"><rect x="-6.5" y="-4" width="13" height="14.5" rx="2"/><text y="7.7">T</text></g>
<g id="leaf47" class="T" transform="translate(47 0) scale(.1210654 -.0366972)"><rect x="-6.5" y="-4" width="13" height="14.5" rx="2"/><text y="7.7">T</text></g>
<g id="leaf48" class="T" transform="translate(48 0) scale(.1210654 -.0366972)"><rect x="-6.5" y="-4" width="13" height="14.5" rx="2"/><text y="7.7">T</text></g>
<g id="leaf49" class="T" transform="translate(49 0) scale(.1210654 -.0366972)"><rect x="-6.5" y="-4" width="13" height="14.5" rx="2"/><text y="7.7">T</text></g>
<g id="leaf50" class="T" transform="translate(50 0) scale(.1210654 -.0366972)"><rect x="-6.5" y="-4" width="13" height="14.5" rx="2"/><text y="7.7">T</text></g>
<g id="leaf51" class="T" transform="translate(51 0) scale(.1210654 -.0366972)"><rect x="-6.5" y="-4" width="13" height="14.5" rx="2"/><text y="7.7">T</text></g>
<g id="leaf52" class="T" transform="translate(52 0) scale(.1210654 -.0366972)"><rect x="-6.5" y="-4" width="13" height="14.5" rx="2"/><text y="7.7">T</text></g>
<g id="leaf53" class="T" transform="translate(53 0) scale(.1210654 -.0366972)"><rect x="-6.5" y="-4" width="13" height="14.5" rx="2"/><text y="7.7">T</text></g>
<g id="leaf54" class="T" transform="translate(54 0) scale(.1210654 -.0366972)"><rect x="-6.5" y="-4" width="13" height="14.5" rx="2"/><text y="7.7">T</text></g>
<g id="leaf55" class="T" transform="translate(55 0) scale(.1210654 -.0366972)"><rect x="-6.5" y="-4" width="13" height="14.5" rx="2"/><text y="7.7">T</text></g>
<g id="leaf56" class="T" transform="translate(56 0) scale(.1210654 -.0366972)"><rect x="-6.5" y="-4" width="13" height="14.5" rx="2"/><text y="7.7">T</text></g>
<g id="leaf57" class="T" transform="translate(57 0) scale(.1210654 -.0366972)"><rect x="-6.5" y="-4" width="13" height="14.5" rx="2"/><text y="7.7">T</text></g>
<g id="leaf58" class="T" transform="translate(58 0) scale(.1210654 -.0366972)"><rect x="-6.5" y="-4" width="13" height="14.5" rx="2"/><text y="7.7">T</text></g>
<g id="leaf59" class="T" transform="translate(59 0) scale(.1210654 -.0366972)"><rect x="-6.5" y="-4" width="13" height="14.5" rx="2"/><text y="7.7">T</text></g>
<g id="leaf60" class="T" transform="translate(60 0) scale(.1210654 -.0366972)"><rect x="-6.5" y="-4" width="13" height="14.5" rx="2"/><text y="7.7">T</text></g>
<g id="leaf61" class="T" transform="translate(61 0) scale(.1210654 -.0366972)"><rect x="-6.5" y="-4" width="13" height="14.5" rx="2"/><text y="7.7">T</text></g>
<g id="leaf62" class="T" transform="translate(62 0) scale(.1210654 -.0366972)"><rect x="-6.5" y="-4" width="13" height="14.5" rx="2"/><text y="7.7">T</text></g>
<g id="leaf63" class="T" transform="translate(63 0) scale(.1210654 -.0366972)"><rect x="-6.5" y="-4" width="13" height="14.5" rx="2"/><text y="7.7">T</text></g>
<g id="leaf64" class="T" transform="translate(64 0) scale(.1210654 -.0366972)"><rect x="-6.5" y="-4" width="13" height="14.5" rx="2"/><text y="7.7">T</text></g>
<g id="leaf65" class="T" transform="translate(65 0) scale(.1210654 -.0366972)"><rect x="-6.5" y="-4" width="13" height="14.5" rx="2"/><text y="7.7">T</text></g>
<g id="leaf66" class="T" transform="translate(66 0) scale(.1210654 -.0366972)"><rect x="-6.5" y="-4" width="13" height="14.5" rx="2"/><text y="7.7">T</text></g>
<g id="leaf67" class="T" transform="translate(67 0) scale(.1210654 -.0366972)"><rect x="-6.5" y="-4" width="13" height="14.5" rx="2"/><text y="7.7">T</text></g>
<g id="leaf68" class="T" transform="translate(68 0) scale(.1210654 -.0366972)"><rect x="-6.5" y="-4" width="13" height="14.5" rx="2"/><text y="7.7">T</text></g>
<g id="leaf69" class="T" transform="translate(69 0) scale(.1210654 -.0366972)"><rect x="-6.5" y="-4" width="13" height="14.5" rx="2"/><text y="7.7">T</text></g>
<g id="leaf70" class="T" transform="translate(70 0) scale(.1210654 -.0366972)"><rect x="-6.5" y="-4" width="13" height="14.5" rx="2"/><text y="7.7">T</text></g>
<g id="leaf71" class="T" transform="translate(71 0) scale(.1210654 -.0366972)"><rect x="-6.5" y="-4" width="13" height="14.5" rx="2"/><text y="7.7">T</text></g>
<g id="leaf72" class="T" transform="translate(72 0) scale(.1210654 -.0366972)"><rect x="-6.5" y="-4" width="13" height="14.5" rx="2"/><text y="7.7">T</text></g>
<g id="leaf73" class="T" transform="translate(73 0) scale(.1210654 -.0366972)"><rect x="-6.5" y="-4" width="13" height="14.5" rx="2"/><text y="7.7">T</text></g>
<g id="leaf74" class="T" transform="translate(74 0) scale(.1210654 -.0366972)"><rect x="-6.5" y="-4" width="13" height="14.5" rx="2"/><text y="7.7">T</text></g>
<g id="leaf75" class="T" transform="translate(75 0) scale(.1210654 -.0366972)"><rect x="-6.5" y="-4" width="13" height="14.5" rx="2"/><text y="7.7">T</text></g>
<g id="leaf76" class="T" transform="translate(76 0) scale(.1210654 -.0366972)"><rect x="-6.5" y="-4" width="13" height="14.5" rx="2"/><text y="7.7">T</text></g>
<g id="leaf77" class="T" transform="translate(77 0) scale(.1210654 -.0366972)"><rect x="-6.5" y="-4" width="13" height="14.5" rx="2"/><text y="7.7">T</text></g>
<g id="leaf78" class="T" transform="translate(78 0) scale(.1210654 -.0366972)"><rect x="-6.5" y="-4" width="13" height="14.5" rx="2"/><text y="7.7">T</text></g>
<g id="leaf79" class="T" transform="translate(79 0) scale(.1210654 -.0366972)"><rect x="-6.5" y="-4" width="13" height="14.5" rx="2"/><text y="7.7">T</text></g>
<g id="leaf80" class="T" transform="translate(80 0) scale(.1210654 -.0366972)"><rect x="-6.5" y="-4" width="13" height="14.5" rx="2"/><text y="7.7">T</text></g>
<g id="leaf81" class="T" transform="translate(81 0) scale(.1210654 -.0366972)"><rect x="-6.5" y="-4" width="13" height="14.5" rx="2"/><text y="7.7">T</text></g>
<g id="leaf82" class="T" transform="translate(82 0) scale(.1210654 -.0366972)"><rect x="-6.5" y="-4" width="13" height="14.5" rx="2"/><text y="7.7">T</text></g>
<g id="leaf83" class="T" transform="translate(83 0) scale(.1210654 -.0366972)"><rect x="-6.5" y="-4" width="13" height="14.5" rx="2"/><text y="7.7">T</text></g>
<g id="leaf84" class="T" transform="translate(84 0) scale(.1210654 -.0366972)"><rect x="-6.5" y="-4" width="13" height="14.5" rx="2"/><text y="7.7">T</text></g>
<g id="leaf85" class="T" transform="translate(85 0) scale(.1210654 -.0366972)"><rect x="-6.5" y="-4" width="13" height="14.5" rx="2"/><text y="7.7">T</text></g>
<g id="leaf86" class="T" transform="translate(86 0) scale(.1210654 -.0366972)"><rect x="-6.5" y="-4" width="13" height="14.5" rx="2"/><text y="7.7">T</text></g>
<g id="leaf87" class="T" transform="translate(87 0) scale(.1210654 -.0366972)"><rect x="-6.5" y="-4" width="13" height="14.5" rx="2"/><text y="7.7">T</text></g>
<g id="leaf88" class="T" transform="translate(88 0) scale(.1210654 -.0366972)"><rect x="-6.5" y="-4" width="13" height="14.5" rx="2"/><text y="7.7">T</text></g>
<g id="leaf89" class="T" transform="translate(89 0) scale(.1210654 -.0366972)"><rect x="-6.5" y="-4" width="13" height="14.5" rx="2"/><text y="7.7">T</text></g>
<g id="leaf90" class="T" transform="translate(90 0) scale(.1210654 -.0366972)"><rect x="-6.5" y="-4" width="13" height="14.5" rx="2"/><text y="7.7">T</text></g>
<g id="leaf91" class="T" transform="translate(91 0) scale(.1210654 -.0366972)"><rect x="-6.5" y="-4" width="13" height="14.5" rx="2"/><text y="7.7">T</text></g>
<g id="leaf92" class="T" transform="translate(92 0) scale(.1210654 -.0366972)"><rect x="-6.5" y="-4" width="13" height="14.5" rx="2"/><text y="7.7">T</text></g>
<g id="leaf93" class="T" transform="translate(93 0) scale(.1210654 -.0366972)"><rect x="-6.5" y="-4" width="13" height="14.5" rx="2"/><text y="7.7">T</text></g>
<g id="leaf94" class="T" transform="translate(94 0) scale(.1210654 -.0366972)"><rect x="-6.5" y="-4" width="13" height="14.5" rx="2"/><text y="7.7">T</text></g>
<g id="leaf95" class="T" transform="translate(95 0) scale(.1210654 -.0366972)"><rect x="-6.5" y="-4" width="13" height="14.5" rx="2"/><text y="7.7">T</text></g>
<g id="leaf96" class="T" transform="translate(96 0) scale(.1210654 -.0366972)"><rect x="-6.5" y="-4" width="13" height="14.5" rx="2"/><text y="7.7">T</text></g>
<g id="leaf97" class="T" transform="translate(97 0) scale(.1210654 -.0366972)"><rect x="-6.5" y="-4" width="13" height="14.5" rx="2"/><text y="7.7">T</text></g>
<g id="leaf98" class="T" transform="translate(98 0) scale(.1210654 -.0366972)"><rect x="-6.5" y="-4" width="13" height="14.5" rx="2"/><text y="7.7">T</text></g>
<g id="leaf99" class="T" transform="translate(99 0) scale(.1210654 -.0366972)"><rect x="-6.5" y="-4" width="13" height="14.5" rx="2"/><text y="7.7">T</text></g>
<g id="leaf100" class="T" transform="translate(100 0) scale(.1210654 -.0366972)"><rect x="-6.5" y="-4" width="13" height="14.5" rx="2"/><text y="7.7">T</text></g>
<g id="leaf101" class="T" transform="translate(101 0) scale(.1210654 -.0366972)"><rect x="-6.5" y="-4" width="13" height="14.5" rx="2"/><text y="7.7">T</text></g>
<g id="leaf102" class="T" transform="translate(102 0) scale(.1210654 -.0366972)"><rect x="-6.5" y="-4" width="13" height="14.5" rx="2"/><text y="7.7">T</text></g>
<g id="leaf103" class="T" transform="translate(103 0) scale(.1210654 -.0366972)"><rect x="-6.5" y="-4" width="13" height="14.5" rx="2"/><text y="7.7">T</text></g>
<g id="leaf104" class="T" transform="translate(104 0) scale(.1210654 -.0366972)"><rect x="-6.5" y="-4" width="13" height="14.5" rx="2"/><text y="7.7">T</text></g>
<g id="leaf105" class="T" transform="translate(105 0) scale(.1210654 -.0366972)"><rect x="-6.5" y="-4" width="13" height="14.5" rx="2"/><text y="7.7">T</text></g>
<g id="leaf106" class="T" transform="translate(106 0) scale(.1210654 -.0366972)"><rect x="-6.5" y="-4" width="13" height="14.5" rx="2"/><text y="7.7">T</text></g>
<g id="leaf107" class="T" transform="translate(107 0) scale(.1210654 -.0366972)"><rect x="-6.5" y="-4" width="13" height="14.5" rx="2"/><text y="7.7">T</text></g>
<g id="leaf108" class="T" transform="translate(108 0) scale(.1210654 -.0366972)"><rect x="-6.5" y="-4" width="13" height="14.5" rx="2"/><text y="7.7">T</text></g>
<g id="leaf109" class="T" transform="translate(109 0) scale(.1210654 -.0366972)"><rect x="-6.5" y="-4" width="13" height="14.5" rx="2"/><text y="7.7">T</text></g>
<g id="leaf110" class="T" transform="translate(110 0) scale(.1210654 -.0366972)"><rect x="-6.5" y="-4" width="13" height="14.5" rx="2"/><text y="7.7">T</text></g>
<g id="leaf111" class="T" transform="translate(111 0) scale(.1210654 -.0366972)"><rect x="-6.5" y="-4" width="13" height="14.5" rx="2"/><text y="7.7">T</text></g>
<g id="leaf112" class="T" transform="translate(112 0) scale(.1210654 -.0366972)"><rect x="-6.5" y="-4" width="13" height="14.5" rx="2"/><text y="7.7">T</text></g>
<g id="leaf113" class="T" transform="translate(113 0) scale(.1210654 -.0366972)"><rect x="-6.5" y="-4" width="13" height="14.5" rx="2"/><text y="7.7">T</text></g>
<g id="leaf114" class="T" transform="translate(114 0) scale(.1210654 -.0366972)"><rect x="-6.5" y="-4" width="13" height="14.5" rx="2"/><text y="7.7">T</text></g>
<g id="leaf115" class="T" transform="translate(115 0) scale(.1210654 -.0366972)"><rect x="-6.5" y="-4" width="13" height="14.5" rx="2"/><text y="7.7">T</text></g>
<g id="leaf116" class="T" transform="translate(116 0) scale(.1210654 -.0366972)"><rect x="-6.5" y="-4" width="13" height="14.5" rx="2"/><text y="7.7">T</text></g>
<g id="leaf117" class="T" transform="translate(117 0) scale(.1210654 -.0366972)"><rect x="-6.5" y="-4" width="13" height="14.5" rx="2"/><text y="7.7">T</text></g>
<g id="leaf118" class="T" transform="translate(118 0) scale(.1210654 -.0366972)"><rect x="-6.5" y="-4" width="13" height="14.5" rx="2"/><text y="7.7">T</text></g>
<g id="leaf119" class="T" transform="translate(119 0) scale(.1210654 -.0366972)"><rect x="-6.5" y="-4" width="13" height="14.5" rx="2"/><text y="7.7">T</text></g>
<g id="leaf120" class="T" transform="translate(120 0) scale(.1210654 -.0366972)"><rect x="-6.5" y="-4" width="13" height="14.5" rx="2"/><text y="7.7">T</text></g>
<g id="leaf121" class="T" transform="translate(121 0) scale(.1210654 -.0366972)"><rect x="-6.5" y="-4" width="13" height="14.5" rx="2"/><text y="7.7">T</text></g>
<g id="leaf122" class="T" transform="translate(122 0) scale(.1210654 -.0366972)"><rect x="-6.5" y="-4" width="13" height="14.5" rx="2"/><text y="7.7">T</text></g>
<g id="leaf123" class="T" transform="translate(123 0) scale(.1210654 -.0366972)"><rect x="-6.5" y="-4" width="13" height="14.5" rx="2"/><text y="7.7">T</text></g>
<g id="leaf124" class="T" transform="translate(124 0) scale(.1210654 -.0366972)"><rect x="-6.5" y="-4" width="13" height="14.5" rx="2"/><text y="7.7">T</text></g>
<g id="leaf125" class="T" transform="translate(125 0) scale(.1210654 -.0366972)"><rect x="-6.5" y="-4" width="13" height="14.5" rx="2"/><text y="7.7">T</text></g>
<g id="leaf126" class="T" transform="translate(126 0) scale(.1210654 -.0366972)"><rect x="-6.5" y="-4" width="13" height="14.5" rx="2"/><text y="7.7">T</text></g>
<g id="leaf127" class="T" transform="translate(127 0) scale(.1210654 -.0366972)"><rect x="-6.5" y="-4" width="13" height="14.5" rx="2"/><text y="7.7">T</text></g>
<g id="leaf128" class="T" transform="translate(128 0) scale(.1210654 -.0366972)"><rect x="-6.5" y="-4" width="13" height="14.5" rx="2"/><text y="7.7">T</text></g>
<g id="leaf129" class="T" transform="translate(129 0) scale(.1210654 -.0366972)"><rect x="-6.5" y="-4" width="13" height="14.5" rx="2"/><text y="7.7">T</text></g>
<g id="leaf130" class="T" transform="translate(130 0) scale(.1210654 -.0366972)"><rect x="-6.5" y="-4" width="13" height="14.5" rx="2"/><text y="7.7">T</text></g>
<g id="leaf131" class="T" transform="translate(131 0) scale(.1210654 -.0366972)"><rect x="-6.5" y="-4" width="13" height="14.5" rx="2"/><text y="7.7">T</text></g>
<g id="leaf132" class="T" transform="translate(132 0) scale(.1210654 -.0366972)"><rect x="-6.5" y="-4" width="13" height="14.5" rx="2"/><text y="7.7">T</text></g>
<g id="leaf133" class="T" transform="translate(133 0) scale(.1210654 -.0366972)"><rect x="-6.5" y="-4" width="13" height="14.5" rx="2"/><text y="7.7">T</text></g>
<g id="leaf134" class="T" transform="translate(134 0) scale(.1210654 -.0366972)"><rect x="-6.5" y="-4" width="13" height="14.5" rx="2"/><text y="7.7">T</text></g>
<g id="leaf135" class="T" transform="translate(135 0) scale(.1210654 -.0366972)"><rect x="-6.5" y="-4" width="13" height="14.5" rx="2"/><text y="7.7">T</text></g>
<g id="leaf136" class="T" transform="translate(136 0) scale(.1210654 -.0366972)"><rect x="-6.5" y="-4" width="13" height="14.5" rx="2"/><text y="7.7">T</text></g>
<g id="leaf137" class="T" transform="translate(137 0) scale(.1210654 -.0366972)"><rect x="-6.5" y="-4" width="13" height="14.5" rx="2"/><text y="7.7">T</text></g>
<g id="leaf138" class="T" transform="translate(138 0) scale(.1210654 -.0366972)"><rect x="-6.5" y="-4" width="13" height="14.5" rx="2"/><text y="7.7">T</text></g>
<g id="leaf139" class="T" transform="translate(139 0) scale(.1210654 -.0366972)"><rect x="-6.5" y="-4" width="13" height="14.5" rx="2"/><text y="7.7">T</text></g>
<g id="leaf140" class="T" transform="translate(140 0) scale(.1210654 -.0366972)"><rect x="-6.5" y="-4" width="13" height="14.5" rx="2"/><text y="7.7">T</text></g>
<g id="leaf141" class="T" transform="translate(141 0) scale(.1210654 -.0366972)"><rect x="-6.5" y="-4" width="13" height="14.5" rx="2"/><text y="7.7">T</text></g>
<g id="leaf142" class="T" transform="translate(142 0) scale(.1210654 -.0366972)"><rect x="-6.5" y="-4" width="13" height="14.5" rx="2"/><text y="7.7">T</text></g>
<g id="leaf143" class="T" transform="translate(143 0) scale(.1210654 -.0366972)"><rect x="-6.5" y="-4" width="13" height="14.5" rx="2"/><text y="7.7">T</text></g>
<g id="leaf144" class="T" transform="translate(144 0) scale(.1210654 -.0366972)"><rect x="-6.5" y="-4" width="13" height="14.5" rx="2"/><text y="7.7">T</text></g>
<g id="leaf145" class="T" transform="translate(145 0) scale(.1210654 -.0366972)"><rect x="-6.5" y="-4" width="13" height="14.5" rx="2"/><text y="7.7">T</text></g>
<g id="leaf146" class="T" transform="translate(146 0) scale(.1210654 -.0366972)"><rect x="-6.5" y="-4" width="13" height="14.5" rx="2"/><text y="7.7">T</text></g>
<g id="leaf147" class="T" transform="translate(147 0) scale(.1210654 -.0366972)"><rect x="-6.5" y="-4" width="13" height="14.5" rx="2"/><text y="7.7">T</text></g>
<g id="leaf148" class="T" transform="translate(148 0) scale(.1210654 -.0366972)"><rect x="-6.5" y="-4" width="13" height="14.5" rx="2"/><text y="7.7">T</text></g>
<g id="leaf149" class="T" transform="translate(149 0) scale(.1210654 -.0366972)"><rect x="-6.5" y="-4" width="13" height="14.5" rx="2"/><text y="7.7">T</text></g>
<g id="leaf150" class="T" transform="translate(150 0) scale(.1210654 -.0366972)"><rect x="-6.5" y="-4" width="13" height="14.5" rx="2"/><text y="7.7">T</text></g>
<g id="leaf151" class="T" transform="translate(151 0) scale(.1210654 -.0366972)"><rect x="-6.5" y="-4" width="13" height="14.5" rx="2"/><text y="7.7">T</text></g>
<g id="leaf152" class="T" transform="translate(152 0) scale(.1210654 -.0366972)"><rect x="-6.5" y="-4" width="13" height="14.5" rx="2"/><text y="7.7">T</text></g>
<g id="leaf153" class="T" transform="translate(153 0) scale(.1210654 -.0366972)"><rect x="-6.5" y="-4" width="13" height="14.5" rx="2"/><text y="7.7">T</text></g>
<g id="leaf154" class="T" transform="translate(154 0) scale(.1210654 -.0366972)"><rect x="-6.5" y="-4" width="13" height="14.5" rx="2"/><text y="7.7">T</text></g>
<g id="leaf155" class="T" transform="translate(155 0) scale(.1210654 -.0366972)"><rect x="-6.5" y="-4" width="13" height="14.5" rx="2"/><text y="7.7">T</text></g>
<g id="leaf156" class="T" transform="translate(156 0) scale(.1210654 -.0366972)"><rect x="-6.5" y="-4" width="13" height="14.5" rx="2"/><text y="7.7">T</text></g>
<g id="leaf157" class="T" transform="translate(157 0) scale(.1210654 -.0366972)"><rect x="-6.5" y="-4" width="13" height="14.5" rx="2"/><text y="7.7">T</text></g>
<g id="leaf158" class="T" transform="translate(158 0) scale(.1210654 -.0366972)"><rect x="-6.5" y="-4" width="13" height="14.5" rx="2"/><text y="7.7">T</text></g>
<g id="leaf159" class="T" transform="translate(159 0) scale(.1210654 -.0366972)"><rect x="-6.5" y="-4" width="13" height="14.5" rx="2"/><text y="7.7">T</text></g>
<g id="leaf160" class="T" transform="translate(160 0) scale(.1210654 -.0366972)"><rect x="-6.5" y="-4" width="13" height="14.5" rx="2"/><text y="7.7">T</text></g>
<g id="leaf161" class="T" transform="translate(161 0) scale(.1210654 -.0366972)"><rect x="-6.5" y="-4" width="13" height="14.5" rx="2"/><text y="7.7">T</text></g>
<g id="leaf162" class="T" transform="translate(162 0) scale(.1210654 -.0366972)"><rect x="-6.5" y="-4" width="13" height="14.5" rx="2"/><text y="7.7">T</text></g>
<g id="leaf163" class="T" transform="translate(163 0) scale(.1210654 -.0366972)"><rect x="-6.5" y="-4" width="13" height="14.5" rx="2"/><text y="7.7">T</text></g>
<g id="leaf164" class="T" transform="translate(164 0) scale(.1210654 -.0366972)"><rect x="-6.5" y="-4" width="13" height="14.5" rx="2"/><text y="7.7">T</text></g>
<g id="leaf165" class="T" transform="translate(165 0) scale(.1210654 -.0366972)"><rect x="-6.5" y="-4" width="13" height="14.5" rx="2"/><text y="7.7">T</text></g>
<g id="leaf166" class="T" transform="translate(166 0) scale(.1210654 -.0366972)"><rect x="-6.5" y="-4" width="13" height="14.5" rx="2"/><text y="7.7">T</text></g>
<g id="leaf167" class="T" transform="translate(167 0) scale(.1210654 -.0366972)"><rect x="-6.5" y="-4" width="13" height="14.5" rx="2"/><text y="7.7">T</text></g>
<g id="leaf168" class="T" transform="translate(168 0) scale(.1210654 -.0366972)"><rect x="-6.5" y="-4" width="13" height="14.5" rx="2"/><text y="7.7">T</text></g>
<g id="leaf169" class="T" transform="translate(169 0) scale(.1210654 -.0366972)"><rect x="-6.5" y="-4" width="13" height="14.5" rx="2"/><text y="7.7">T</text></g>
<g id="leaf170" class="T" transform="translate(170 0) scale(.1210654 -.0366972)"><rect x="-6.5" y="-4" width="13" height="14.5" rx="2"/><text y="7.7">T</text></g>
<g id="leaf171" class="T" transform="translate(171 0) scale(.1210654 -.0366972)"><rect x="-6.5" y="-4" width="13" height="14.5" rx="2"/><text y="7.7">T</text></g>
<g id="leaf172" class="T" transform="translate(172 0) scale(.1210654 -.0366972)"><rect x="-6.5" y="-4" width="13" height="14.5" rx="2"/><text y="7.7">T</text></g>
<g id="leaf173" class="T" transform="translate(173 0) scale(.1210654 -.0366972)"><rect x="-6.5" y="-4" width="13" height="14.5" rx="2"/><text y="7.7">T</text></g>
<g id="leaf174" class="T" transform="translate(174 0) scale(.1210654 -.0366972)"><rect x="-6.5" y="-4" width="13" height="14.5" rx="2"/><text y="7.7">T</text></g>
<g id="leaf175" class="T" transform="translate(175 0) scale(.1210654 -.0366972)"><rect x="-6.5" y="-4" width="13" height="14.5" rx="2"/><text y="7.7">T</text></g>
<g id="leaf176" class="T" transform="translate(176 0) scale(.1210654 -.0366972)"><rect x="-6.5" y="-4" width="13" height="14.5" rx="2"/><text y="7.7">T</text></g>
<g id="leaf177" class="T" transform="translate(177 0) scale(.1210654 -.0366972)"><rect x="-6.5" y="-4" width="13" height="14.5" rx="2"/><text y="7.7">T</text></g>
<g id="leaf178" class="T" transform="translate(178 0) scale(.1210654 -.0366972)"><rect x="-6.5" y="-4" width="13" height="14.5" rx="2"/><text y="7.7">T</text></g>
<g id="leaf179" class="T" transform="translate(179 0) scale(.1210654 -.0366972)"><rect x="-6.5" y="-4" width="13" height="14.5" rx="2"/><text y="7.7">T</text></g>
<g id="leaf180" class="T" transform="translate(180 0) scale(.1210654 -.0366972)"><rect x="-6.5" y="-4" width="13" height="14.5" rx="2"/><text y="7.7">T</text></g>
<g id="leaf181" class="T" transform="translate(181 0) scale(.1210654 -.0366972)"><rect x="-6.5" y="-4" width="13" height="14.5" rx="2"/><text y="7.7">T</text></g>
<g id="leaf182" class="T" transform="translate(182 0) scale(.1210654 -.0366972)"><rect x="-6.5" y="-4" width="13" height="14.5" rx="2"/><text y="7.7">T</text></g>
<g id="leaf183" class="T" transform="translate(183 0) scale(.1210654 -.0366972)"><rect x="-6.5" y="-4" width="13" height="14.5" rx="2"/><text y="7.7">T</text></g>
<g id="leaf184" class="T" transform="translate(184 0) scale(.1210654 -.0366972)"><rect x="-6.5" y="-4" width="13" height="14.5" rx="2"/><text y="7.7">T</text></g>
<g id="leaf185" class="T" transform="translate(185 0) scale(.1210654 -.0366972)"><rect x="-6.5" y="-4" width="13" height="14.5" rx="2"/><text y="7.7">T</text></g>
<g id="leaf186" class="T" transform="translate(186 0) scale(.1210654 -.0366972)"><rect x="-6.5" y="-4" width="13" height="14.5" rx="2"/><text y="7.7">T</text></g>
<g id="leaf187" class="T" transform="translate(187 0) scale(.1210654 -.0366972)"><rect x="-6.5" y="-4" width="13" height="14.5" rx="2"/><text y="7.7">T</text></g>
<g id="leaf188" class="T" transform="translate(188 0) scale(.1210654 -.0366972)"><rect x="-6.5" y="-4" width="13" height="14.5" rx="2"/><text y="7.7">T</text></g>
<g id="leaf189" class="T" transform="translate(189 0) scale(.1210654 -.0366972)"><rect x="-6.5" y="-4" width="13" height="14.5" rx="2"/><text y="7.7">T</text></g>
<g id="leaf190" class="T" transform="translate(190 0) scale(.1210654 -.0366972)"><rect x="-6.5" y="-4" width="13" height="14.5" rx="2"/><text y="7.7">T</text></g>
<g id="leaf191" class="T" transform="translate(191 0) scale(.1210654 -.0366972)"><rect x="-6.5" y="-4" width="13" height="14.5" rx="2"/><text y="7.7">T</text></g>
<g id="leaf192" class="T" transform="translate(192 0) scale(.1210654 -.0366972)"><rect x="-6.5" y="-4" width="13" height="14.5" rx="2"/><text y="7.7">T</text></g>
<g id="leaf193" class="T" transform="translate(193 0) scale(.1210654 -.0366972)"><rect x="-6.5" y="-4" width="13" height="14.5" rx="2"/><text y="7.7">T</text></g>
<g id="leaf194" class="T" transform="translate(194 0) scale(.1210654 -.0366972)"><rect x="-6.5" y="-4" width="13" height="14.5" rx="2"/><text y="7.7">T</text></g>
<g id="leaf195" class="T" transform="translate(195 0) scale(.1210654 -.0366972)"><rect x="-6.5" y="-4" width="13" height="14.5" rx="2"/><text y="7.7">T</text></g>
<g id="leaf196" class="T" transform="translate(196 0) scale(.1210654 -.0366972)"><rect x="-6.5" y="-4" width="13" height="14.5" rx="2"/><text y="7.7">T</text></g>
<g id="leaf197" class="T" transform="translate(197 0) scale(.1210654 -.0366972)"><rect x="-6.5" y="-4" width="13" height="14.5" rx="2"/><text y="7.7">T</text></g>
<g id="leaf198" class="T" transform="translate(198 0) scale(.1210654 -.0366972)"><rect x="-6.5" y="-4" width="13" height="14.5" rx="2"/><text y="7.7">T</text></g>
<g id="leaf199" class="T" transform="translate(199 0) scale(.1210654 -.0366972)"><rect x="-6.5" y="-4" width="13" height="14.5" rx="2"/><text y="7.7">T</text></g>
</g>
<g id="legend">
<text x="1745" y="307.6" font-size="14.4">Compare</text>
<rect x="1745" y="315" width="13.8" height="13.8" fill="#F8766D"/>
<text x="1751.9" y="325.4" font-size="10.5" text-anchor="middle">a</text>
<rect x="1745" y="328.8" width="13.8" height="13.8" fill="#00BFC4"/>
<text x="1751.9" y="339.2" font-size="10.5" text-anchor="middle">a</text>
<text x="1764.2" y="326.6" font-size="11.7">F</text>
<text x="1764.2" y="340.4" font-size="11.7">T</text>
</g>
</svg>
